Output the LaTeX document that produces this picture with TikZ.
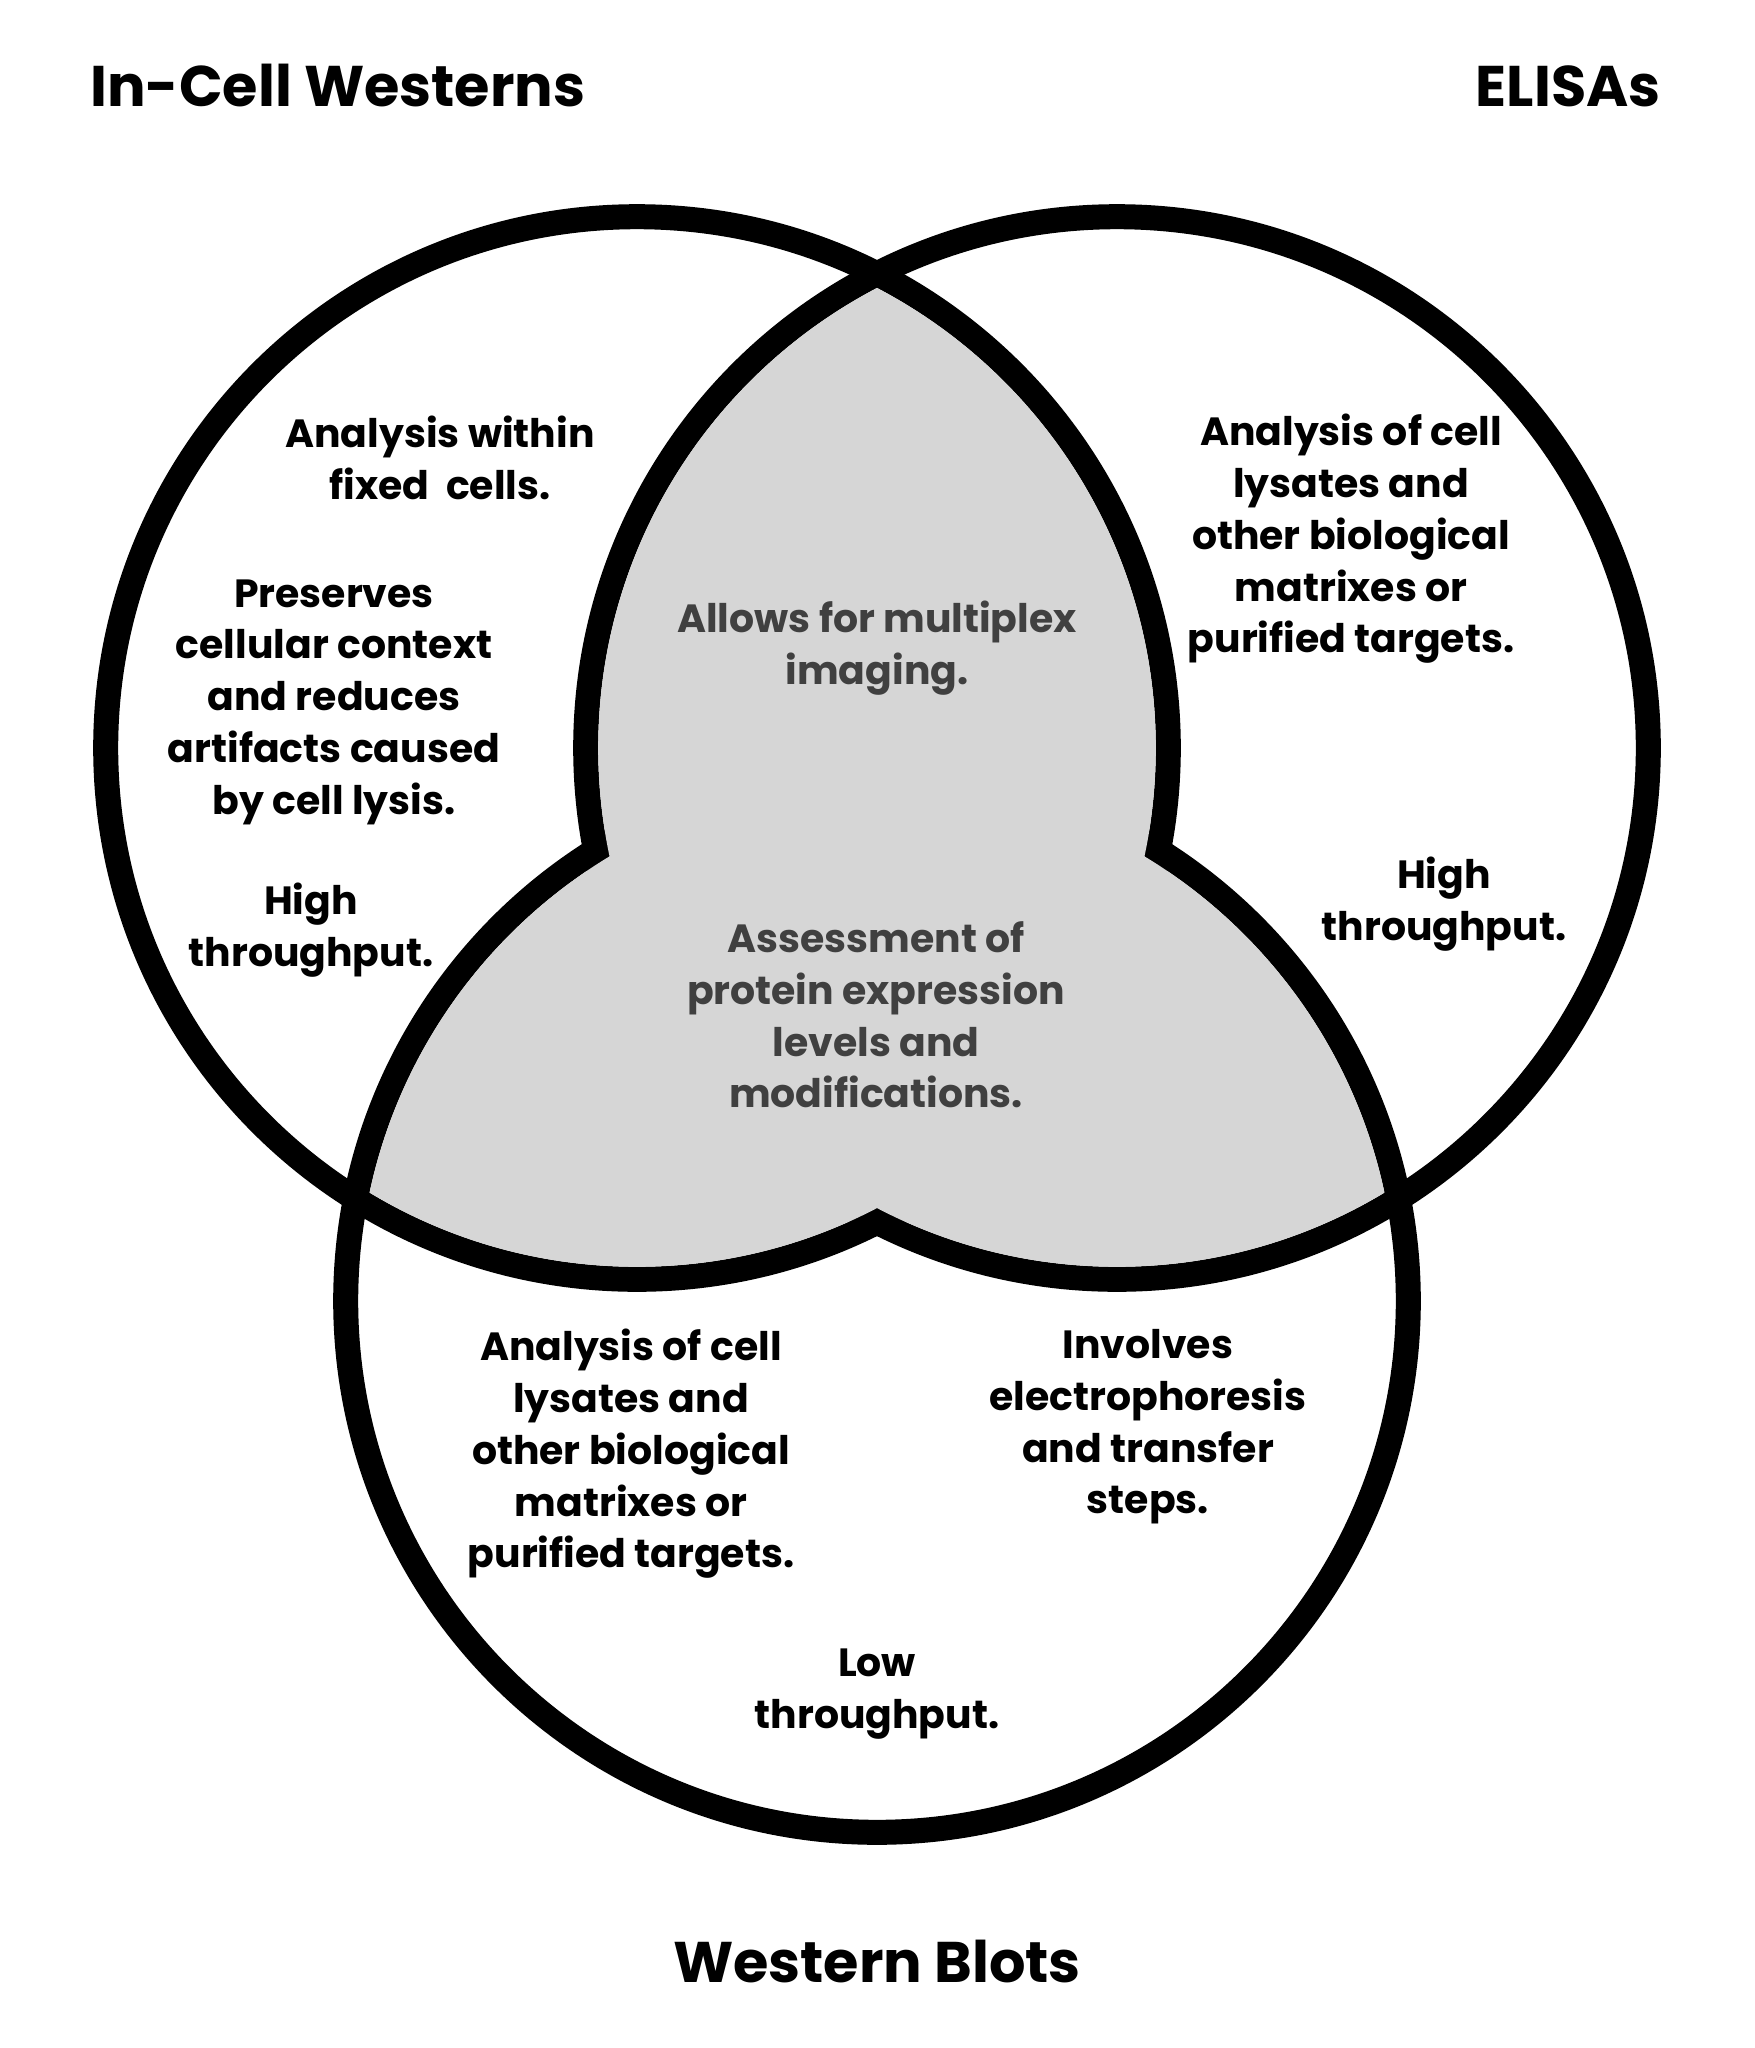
\documentclass[tikz,border=0pt]{standalone}
\usepackage{fontspec}
\setmainfont{Poppins}
\usetikzlibrary{positioning}
\definecolor{lobefill}{HTML}{D6D6D6}
\definecolor{lobetext}{HTML}{404040}
\tikzset{every picture/.style={line width=0.75pt}}

\begin{document}
\begin{tikzpicture}[x=0.01cm, y=-0.01cm,
        ring/.style={draw=black, line width=0.25cm},
        note/.style={align=center, font=\bfseries\fontsize{11.2}{14.7}\selectfont},
        lobe/.style={note, text=lobetext},
        title/.style={inner sep=0pt, font=\bfseries\fontsize{16.3}{20}\selectfont}]
        \useasboundingbox (0,0) rectangle (1755,2048);
        \fill[white] (0,0) rectangle (1755,2048);
        \coordinate (icw) at (637,748);
        \coordinate (eli) at (1117,748);
        \coordinate (wb)  at (877,1301);
        \draw[ring] (icw) circle [radius=5.31cm];
        \draw[ring] (eli) circle [radius=5.31cm];
        \draw[ring] (wb)  circle [radius=5.31cm];
        % overlaps, inside the rings
        \begin{scope}
            \clip (icw) circle [radius=5.185cm];
            \fill[lobefill] (eli) circle [radius=5.185cm];
            \fill[lobefill] (wb) circle [radius=5.185cm];
        \end{scope}
        \begin{scope}
            \clip (eli) circle [radius=5.185cm];
            \fill[lobefill] (wb) circle [radius=5.185cm];
        \end{scope}
        % titles
        \node[title, anchor=west] (ticw) at (89,86) {In-Cell Westerns};
        \node[title, anchor=east] (teli) at (1662,86) {ELISAs};
        \node[title] (twb) at (877,1961) {Western Blots};
        % in-cell westerns
        \node[note] (icw1) at (440,458) {Analysis within\\fixed\ \ cells.};
        \node[note] (icw2) at (334,702) {Preserves\\cellular context\\and reduces\\artifacts caused\\by cell lysis.};
        \node[note] (icw3) at (311,930) {High\\throughput.};
        % elisas
        \node[note] (eli1) at (1351,539) {Analysis of cell\\lysates and\\other biological\\matrixes or\\purified targets.};
        \node[note] (eli2) at (1444,904) {High\\throughput.};
        % western blots
        \node[note] (wb1) at (631,1454) {Analysis of cell\\lysates and\\other biological\\matrixes or\\purified targets.};
        \node[note] (wb2) at (1148,1427) {Involves\\electrophoresis\\and transfer\\steps.};
        \node[note] (wb3) at (877,1694) {Low\\throughput.};
        % shared
        \node[lobe] (top) at (877,648) {Allows for multiplex\\imaging.};
        \node[lobe] (mid) at (876,1015) {Assessment of\\protein expression\\levels and\\modifications.};
    \end{tikzpicture}
\end{document}
